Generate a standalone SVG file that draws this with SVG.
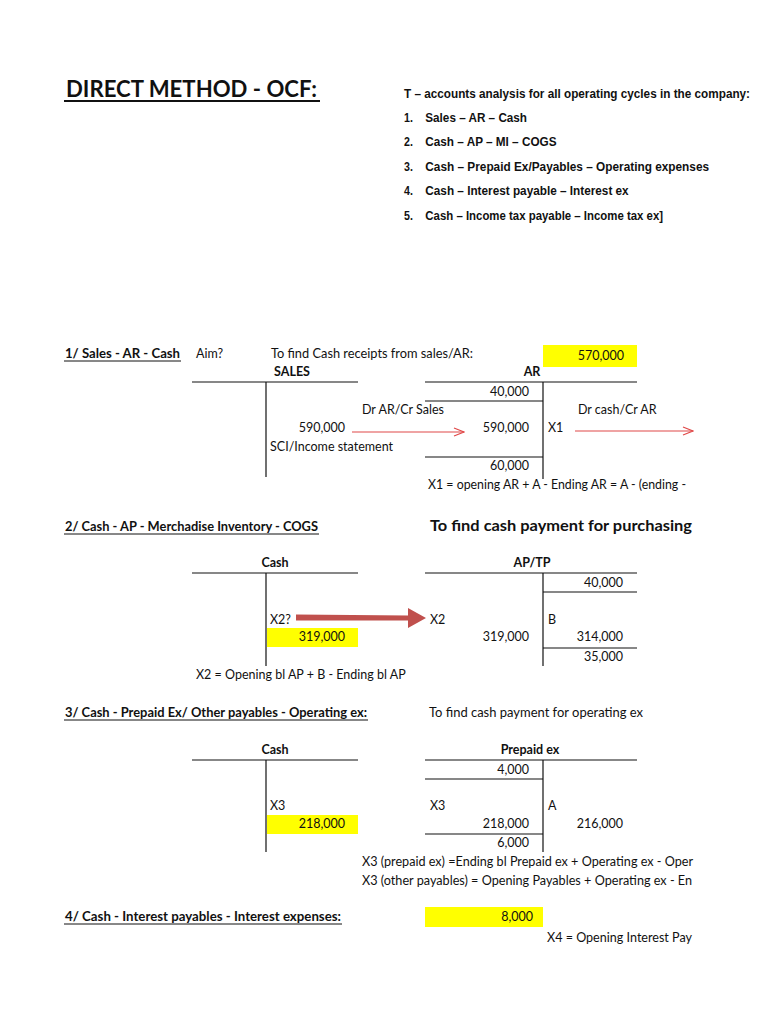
<svg xmlns="http://www.w3.org/2000/svg" width="768" height="1024" viewBox="0 0 768 1024">
<style>
text{font-family:Lato,"Open Sans","Liberation Sans",sans-serif;font-size:12.5px;fill:#111}
.b{font-weight:bold}
.r{text-anchor:end}
.m{text-anchor:middle}
.ar{font-family:"Liberation Sans",Arial,sans-serif;font-weight:bold;font-size:13px}
.ln{stroke:#111;stroke-width:1.2;fill:none}
.ul{stroke:#111;stroke-width:1;fill:none}
.hl{fill:#ffff00}
.thin{stroke:#e04848;stroke-width:1.2;fill:none}
</style>
<defs>
<marker id="open" markerWidth="12" markerHeight="10" refX="11" refY="5" orient="auto" markerUnits="userSpaceOnUse">
<path d="M1,1 L11,5 L1,9" fill="none" stroke="#e04848" stroke-width="1.2"/>
</marker>
</defs>
<rect width="768" height="1024" fill="#fff"/>

<g id="title">
<text x="66" y="97" class="b" style="font-size:22.5px" textLength="251" lengthAdjust="spacingAndGlyphs">DIRECT METHOD - OCF:</text>
<line x1="64" y1="101" x2="320" y2="101" stroke="#111" stroke-width="2"/>
</g>

<g id="list" transform="translate(404,0) scale(0.82,1)">
<text x="0" y="98" class="ar" textLength="422" lengthAdjust="spacingAndGlyphs">T – accounts analysis for all operating cycles in the company:</text>
<text x="0" y="122" class="ar">1.</text><text x="26" y="122" class="ar" textLength="124" lengthAdjust="spacingAndGlyphs">Sales – AR – Cash</text>
<text x="0" y="146" class="ar">2.</text><text x="26" y="146" class="ar" textLength="160" lengthAdjust="spacingAndGlyphs">Cash – AP – MI – COGS</text>
<text x="0" y="171" class="ar">3.</text><text x="26" y="171" class="ar" textLength="346" lengthAdjust="spacingAndGlyphs">Cash – Prepaid Ex/Payables  – Operating expenses</text>
<text x="0" y="195" class="ar">4.</text><text x="26" y="195" class="ar" textLength="248" lengthAdjust="spacingAndGlyphs">Cash – Interest payable – Interest ex</text>
<text x="0" y="220" class="ar">5.</text><text x="26" y="220" class="ar" textLength="290" lengthAdjust="spacingAndGlyphs">Cash – Income tax payable – Income tax ex]</text>
</g>

<!-- Section 1 -->
<g id="sec1-head">
<text x="65" y="358" class="b" textLength="115" lengthAdjust="spacingAndGlyphs">1/ Sales - AR - Cash</text>
<line x1="64" y1="361" x2="181" y2="361" class="ul"/>
<text x="196" y="358">Aim?</text>
<text x="271" y="358" textLength="202" lengthAdjust="spacingAndGlyphs">To find Cash receipts from sales/AR:</text>
<rect x="543" y="345" width="94" height="22" class="hl"/>
<text x="624" y="360" class="r">570,000</text>
</g>
<g id="t-sales">
<text x="292" y="376" class="b m">SALES</text>
<line x1="192" y1="382" x2="358" y2="382" class="ln"/>
<line x1="266" y1="382" x2="266" y2="477" class="ln"/>
<text x="345" y="432" class="r">590,000</text>
<text x="270" y="451">SCI/Income statement</text>
</g>
<g id="t-ar">
<text x="532" y="376" class="b m">AR</text>
<line x1="425" y1="382" x2="637" y2="382" class="ln"/>
<line x1="543" y1="382" x2="543" y2="479" class="ln"/>
<text x="529" y="396" class="r">40,000</text>
<line x1="425" y1="401" x2="543" y2="401" class="ln"/>
<text x="529" y="432" class="r">590,000</text>
<text x="548" y="432">X1</text>
<line x1="425" y1="457" x2="543" y2="457" class="ln"/>
<text x="529" y="470" class="r">60,000</text>
</g>
<text x="362" y="414">Dr AR/Cr Sales</text>
<text x="578" y="414">Dr cash/Cr AR</text>
<text x="428" y="489" textLength="258" lengthAdjust="spacingAndGlyphs">X1 = opening AR + A - Ending AR = A - (ending -</text>

<!-- Section 2 -->
<g id="sec2-head">
<text x="65" y="531" class="b" textLength="253" lengthAdjust="spacingAndGlyphs">2/ Cash - AP - Merchadise Inventory - COGS</text>
<line x1="64" y1="534" x2="319" y2="534" class="ul"/>
<text x="430" y="531" class="b" style="font-size:15px" textLength="262" lengthAdjust="spacingAndGlyphs">To find cash payment for purchasing</text>
</g>
<g id="t-cash2">
<text x="275" y="567" class="b m">Cash</text>
<line x1="192" y1="573" x2="358" y2="573" class="ln"/>
<line x1="266" y1="573" x2="266" y2="666" class="ln"/>
<text x="270" y="624">X2?</text>
<rect x="267" y="628" width="91" height="19" class="hl"/>
<text x="345" y="641" class="r">319,000</text>
<text x="196" y="679">X2 = Opening bl AP + B - Ending bl AP</text>
</g>
<g id="t-ap">
<text x="532" y="567" class="b m">AP/TP</text>
<line x1="425" y1="573" x2="637" y2="573" class="ln"/>
<line x1="543" y1="573" x2="543" y2="666" class="ln"/>
<text x="623" y="587" class="r">40,000</text>
<line x1="543" y1="592" x2="637" y2="592" class="ln"/>
<text x="430" y="624">X2</text>
<text x="548" y="624">B</text>
<text x="529" y="641" class="r">319,000</text>
<text x="623" y="641" class="r">314,000</text>
<line x1="543" y1="648" x2="637" y2="648" class="ln"/>
<text x="623" y="661" class="r">35,000</text>
</g>

<!-- Section 3 -->
<g id="sec3-head">
<text x="65" y="717" class="b" textLength="302" lengthAdjust="spacingAndGlyphs">3/ Cash - Prepaid Ex/ Other payables - Operating ex:</text>
<line x1="64" y1="720" x2="368" y2="720" class="ul"/>
<text x="429" y="717" textLength="214" lengthAdjust="spacingAndGlyphs">To find cash payment for operating ex</text>
</g>
<g id="t-cash3">
<text x="275" y="754" class="b m">Cash</text>
<line x1="192" y1="760" x2="358" y2="760" class="ln"/>
<line x1="266" y1="760" x2="266" y2="852" class="ln"/>
<text x="270" y="810">X3</text>
<rect x="267" y="815" width="91" height="19" class="hl"/>
<text x="345" y="828" class="r">218,000</text>
</g>
<g id="t-prepaid">
<text x="530" y="754" class="b m">Prepaid ex</text>
<line x1="425" y1="760" x2="637" y2="760" class="ln"/>
<line x1="543" y1="760" x2="543" y2="852" class="ln"/>
<text x="529" y="774" class="r">4,000</text>
<line x1="425" y1="779" x2="543" y2="779" class="ln"/>
<text x="430" y="810">X3</text>
<text x="548" y="810">A</text>
<text x="529" y="828" class="r">218,000</text>
<text x="623" y="828" class="r">216,000</text>
<line x1="425" y1="834" x2="543" y2="834" class="ln"/>
<text x="529" y="847" class="r">6,000</text>
</g>
<text x="362" y="866" textLength="331" lengthAdjust="spacingAndGlyphs">X3 (prepaid ex) =Ending bl Prepaid ex + Operating ex - Oper</text>
<text x="362" y="885" textLength="330" lengthAdjust="spacingAndGlyphs">X3 (other payables) = Opening Payables + Operating ex - En</text>

<!-- Section 4 -->
<g id="sec4-head">
<text x="65" y="921" class="b" textLength="276" lengthAdjust="spacingAndGlyphs">4/ Cash - Interest payables - Interest expenses:</text>
<line x1="64" y1="924" x2="342" y2="924" class="ul"/>
<rect x="425" y="907" width="118" height="20" class="hl"/>
<text x="533" y="921" class="r">8,000</text>
<text x="547" y="942" textLength="145" lengthAdjust="spacingAndGlyphs">X4 = Opening Interest Pay</text>
</g>

<g id="connectors">
<line x1="352" y1="432" x2="464" y2="432" class="thin" marker-end="url(#open)"/>
<line x1="575" y1="431" x2="693" y2="431" class="thin" marker-end="url(#open)"/>
<path d="M296,614.5 L408,615.5 L408,608 L426,618 L408,628 L408,620.5 L296,620.5 Z" fill="#c0504d"/>
</g>
</svg>
